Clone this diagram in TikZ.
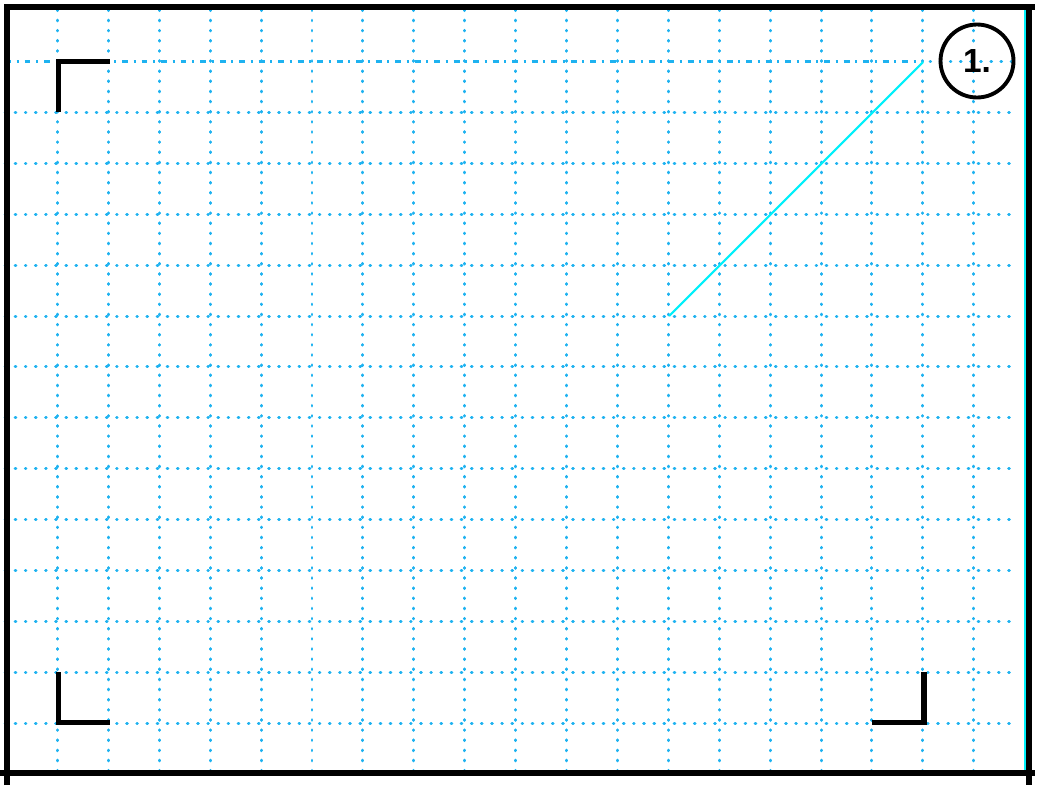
\documentclass[tikz,border=0pt]{standalone}
\usepackage{xcolor}
\usepackage{fontspec}
\setsansfont{Liberation Sans}
\usetikzlibrary{calc}
\usetikzlibrary{positioning}
\definecolor{gridblue}{RGB}{30,178,240}
\definecolor{penline}{RGB}{0,240,250}

\begin{document}
\begin{tikzpicture}[x=0.02cm,y=-0.02cm,line cap=butt]
						\tikzstyle{dots}=[gridblue, line width=1.7pt, line cap=round, dash pattern=on 0.4pt off 5.37pt]
						\tikzstyle{topline}=[gridblue, line width=1.5pt, line cap=butt, dash pattern=on 3.4pt off 3.2pt on 1.3pt off 3.2pt]
						\tikzstyle{frame}=[black, line width=2.9pt]
						\tikzstyle{corner}=[black, line width=2.9pt]
						\tikzstyle{num}=[draw, circle, line width=2.2pt, minimum size=1.46cm, inner sep=0pt, font=\sffamily\bfseries\fontsize{19}{21}\selectfont]
						\useasboundingbox (0,0) rectangle (1044,785);
						% grid
						\foreach \i in {0,...,18}
							\draw[dots] ({57.5+50.9*\i},10) -- ({57.5+50.9*\i},777);
						\foreach \j in {1,...,13}
							\draw[dots] (5,{61.5+50.9*\j}) -- (1018,{61.5+50.9*\j});
						\draw[dots] (930,61.5) -- (1018,61.5);
						\draw[topline] (5,61.5) -- (923,61.5);
						\draw[penline, line width=1.2pt] (1025.5,10) -- (1025.5,776);
						% frame
						\draw[frame] (7,785) -- (7,7) -- (1035,7);
						\draw[frame, line width=3.2pt] (0,773) -- (1035,773);
						\draw[frame] (1029,9) -- (1029,785);
						% corner marks
						\draw[corner] (58.5,112) -- (58.5,61.5) -- (110,61.5);
						\draw[corner] (58.5,672) -- (58.5,722.5) -- (110,722.5);
						\draw[corner] (872,722.5) -- (924,722.5) -- (924,672);
						% label and line
						\node[num] (one) at (977,61) {1.};
						\coordinate (p) at (669,316);
						\coordinate (q) at (923,62);
						\draw[penline, line width=1.2pt] (p) -- (q);
\end{tikzpicture}
\end{document}
